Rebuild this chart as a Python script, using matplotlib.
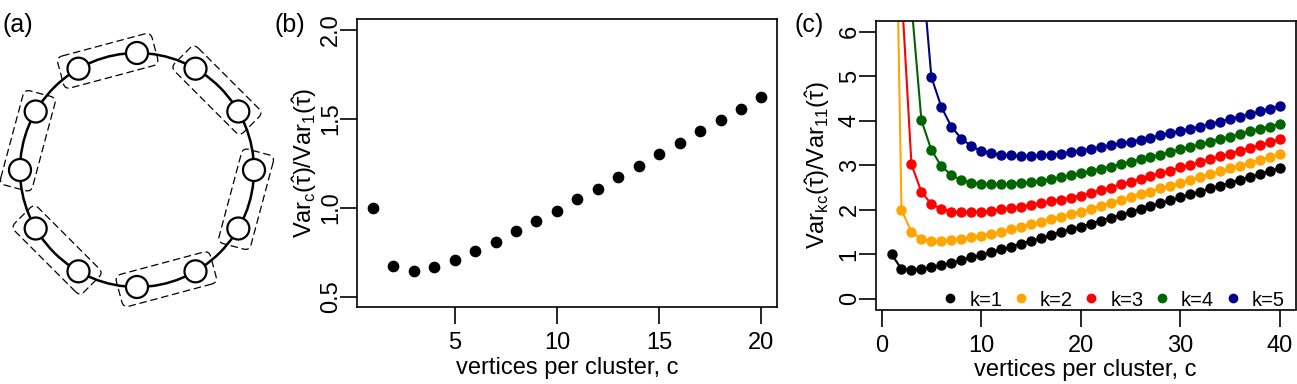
import numpy as np
import matplotlib
matplotlib.use("Agg")
import matplotlib.pyplot as plt
from matplotlib.patches import Circle, FancyBboxPatch
from matplotlib.lines import Line2D
from matplotlib.transforms import Affine2D

plt.rcParams['font.family'] = ['Liberation Sans', 'DejaVu Sans']
plt.rcParams['mathtext.fontset'] = 'custom'
plt.rcParams['mathtext.rm'] = 'Liberation Sans'
plt.rcParams['mathtext.it'] = 'Liberation Sans:italic'

# panel (a): ring of vertices, grouped into clusters
n_vertices = 12
cluster_size = 2

# panel (b): Var_c / Var_1
c_b = list(range(1, 21))
ratio_b = [1.00, 0.67, 0.646, 0.666, 0.707, 0.759, 0.81, 0.87, 0.926, 0.983,
           1.047, 1.108, 1.173, 1.237, 1.30, 1.364, 1.431, 1.496, 1.558, 1.621]

# panel (c): Var_kc / Var_11 for k = 1..5
c_c = list(range(1, 41))
k1 = [1.00, 0.67, 0.65, 0.67, 0.71, 0.76, 0.81, 0.87, 0.93, 0.98,
      1.05, 1.11, 1.17, 1.24, 1.30, 1.36, 1.43, 1.50, 1.56, 1.62,
      1.69, 1.75, 1.82, 1.88, 1.95, 2.02, 2.08, 2.15, 2.21, 2.28,
      2.35, 2.41, 2.48, 2.54, 2.61, 2.67, 2.74, 2.80, 2.87, 2.93]
k2 = [14.8, 2.00, 1.50, 1.34, 1.29, 1.29, 1.31, 1.35, 1.38, 1.42,
      1.46, 1.51, 1.56, 1.62, 1.67, 1.73, 1.79, 1.84, 1.90, 1.96,
      2.02, 2.09, 2.15, 2.22, 2.28, 2.35, 2.41, 2.48, 2.54, 2.60,
      2.67, 2.73, 2.80, 2.86, 2.93, 2.99, 3.06, 3.12, 3.19, 3.25]
k3 = [30.0, 6.95, 3.02, 2.40, 2.13, 2.02, 1.96, 1.95, 1.95, 1.96,
      1.98, 2.01, 2.04, 2.07, 2.11, 2.15, 2.19, 2.23, 2.27, 2.32,
      2.38, 2.44, 2.50, 2.57, 2.63, 2.69, 2.76, 2.82, 2.88, 2.95,
      3.01, 3.07, 3.14, 3.20, 3.26, 3.33, 3.39, 3.45, 3.52, 3.58]
k4 = [45.0, 15.0, 6.63, 4.01, 3.34, 2.98, 2.78, 2.67, 2.61, 2.59,
      2.57, 2.57, 2.58, 2.60, 2.62, 2.65, 2.69, 2.73, 2.77, 2.82,
      2.87, 2.92, 2.97, 3.02, 3.08, 3.13, 3.19, 3.24, 3.30, 3.36,
      3.41, 3.47, 3.53, 3.59, 3.64, 3.70, 3.76, 3.82, 3.87, 3.93]
k5 = [60.0, 25.0, 13.0, 7.58, 4.98, 4.31, 3.87, 3.60, 3.43, 3.32,
      3.27, 3.23, 3.22, 3.21, 3.21, 3.22, 3.24, 3.26, 3.30, 3.33,
      3.37, 3.41, 3.45, 3.49, 3.53, 3.57, 3.62, 3.67, 3.72, 3.77,
      3.82, 3.87, 3.93, 3.98, 4.04, 4.09, 4.15, 4.21, 4.27, 4.33]
series_c = [k1, k2, k3, k4, k5]
labels_c = ['k=1', 'k=2', 'k=3', 'k=4', 'k=5']
colors_c = ['black', '#ffa500', '#ff0000', '#006400', '#00008b']

W, H = 1297, 384
FS = 17
fig = plt.figure(figsize=(W / 100, H / 100), dpi=100)


def style_axes(ax, ypad, xpad=6):
    for s in ax.spines.values():
        s.set_linewidth(1.2)
    ax.tick_params(direction='out', length=12, width=1.2, labelsize=FS)
    ax.tick_params(axis='x', pad=xpad)
    ax.tick_params(axis='y', pad=ypad)
    for lab in ax.get_yticklabels():
        lab.set_rotation(90)
        lab.set_va('center')


# ---- (a) ring diagram, drawn in pixel units
axa = fig.add_axes([0, 0, 275 / W, 1])
axa.set_xlim(0, 275)
axa.set_ylim(H, 0)
axa.axis('off')
cx, cy, r = 137, 170, 117
axa.add_patch(Circle((cx, cy), r, fill=False, lw=1.8, ec='black'))
ang = np.deg2rad(120 - 30 * np.arange(n_vertices))
vx = cx + r * np.cos(ang)
vy = cy - r * np.sin(ang)
for i in range(0, n_vertices, cluster_size):
    x0, y0 = vx[i], vy[i]
    x1, y1 = vx[i + 1], vy[i + 1]
    rot = np.degrees(np.arctan2(y1 - y0, x1 - x0))
    L = np.hypot(x1 - x0, y1 - y0) + 37
    Wd = 33
    box = FancyBboxPatch((-L / 2, -Wd / 2), L, Wd,
                         boxstyle='round,pad=0,rounding_size=6',
                         fill=False, ec='black', lw=0.9, ls=(0, (6, 3)))
    box.set_transform(Affine2D().rotate_deg(rot).translate((x0 + x1) / 2, (y0 + y1) / 2)
                      + axa.transData)
    axa.add_patch(box)
for x, y in zip(vx, vy):
    axa.add_patch(Circle((x, y), 11, fc='white', ec='black', lw=1.6, zorder=3))

# ---- (b)
axb = fig.add_axes([357.3 / W, (H - 307.3) / H, 419.7 / W, 288 / H])
axb.plot(c_b, ratio_b, 'o', color='black', ms=7.4)
axb.set_xlim(0.24, 20.76)
axb.set_ylim(0.44, 2.06)
axb.set_xticks([5, 10, 15, 20])
axb.set_yticks([0.5, 1.0, 1.5, 2.0])
style_axes(axb, ypad=-1)
axb.set_xlabel('vertices per cluster, c', fontsize=FS, labelpad=2)
axb.set_ylabel(r'$\mathrm{Var_c(\hat{\tau})/Var_1(\hat{\tau})}$', fontsize=FS, labelpad=1)

# ---- (c)
axc = fig.add_axes([876 / W, (H - 309.5) / H, 419.5 / W, 288.5 / H])
for vals, col in zip(series_c, colors_c):
    axc.plot(c_c, vals, '-o', color=col, lw=1.5, ms=6.5)
axc.set_xlim(-0.56, 41.56)
axc.set_ylim(-0.24, 6.24)
axc.set_xticks([0, 10, 20, 30, 40])
axc.set_yticks([0, 1, 2, 3, 4, 5, 6])
style_axes(axc, ypad=-1)
axc.set_xlabel('vertices per cluster, c', fontsize=FS, labelpad=2)
axc.set_ylabel(r'$\mathrm{Var_{kc}(\hat{\tau})/Var_{11}(\hat{\tau})}$', fontsize=FS, labelpad=5)
handles = [Line2D([], [], ls='none', marker='o', color=col, ms=6) for col in colors_c]
axc.legend(handles, labels_c, loc='lower right', ncol=5, frameon=False,
           fontsize=14.5, handlelength=1.0, handletextpad=0.44, columnspacing=0.42,
           borderaxespad=0, bbox_to_anchor=(0.993, -0.028))

fig.text(3 / W, 1 - 25 / H, '(a)', fontsize=18, va='center', ha='left')
fig.text(274 / W, 1 - 25 / H, '(b)', fontsize=18, va='center', ha='left')
fig.text(795 / W, 1 - 25 / H, '(c)', fontsize=18, va='center', ha='left')

fig.savefig('out.png', dpi=100)
